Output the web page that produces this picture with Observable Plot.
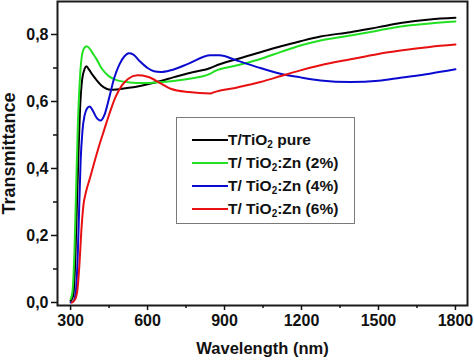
<!DOCTYPE html>
<html>
<head>
<meta charset="utf-8">
<script src="https://cdn.jsdelivr.net/npm/d3@7"></script>
<script src="https://cdn.jsdelivr.net/npm/@observablehq/plot@0.6"></script>
<style>
  html, body { margin: 0; padding: 0; background: #fff; }
  #wrap { position: relative; width: 474px; height: 363px; font-family: "Liberation Sans", Arial, sans-serif; font-weight: bold; }
  #legend { position: absolute; left: 176px; top: 117px; width: 179px; height: 107px; border: 1.5px solid #7a7a7a; box-sizing: border-box; background: #fff; }
  .row { position: absolute; left: 15px; height: 18px; display: flex; align-items: center; font-size: 15.5px; color: #111; white-space: nowrap; }
  .sw { width: 36px; height: 2px; margin-right: 0px; }
  sub { font-size: 10px; vertical-align: -3px; line-height: 0; }
</style>
</head>
<body>
<div id="wrap"></div>
<script>
// Series: T/TiO2 pure
const pureWl = [300,310,318,325,331,337,345,355,362,372,385,400,420,440,456,480,520,580,651,700,780,845,860,950,1040,1120,1196,1274,1391,1500,1586,1700,1800];
const pureT  = [0.005,0.02,0.12,0.30,0.45,0.58,0.665,0.698,0.705,0.695,0.68,0.665,0.648,0.638,0.635,0.636,0.640,0.648,0.661,0.672,0.688,0.700,0.705,0.727,0.747,0.765,0.780,0.794,0.807,0.822,0.834,0.845,0.850];
// Series: T/ TiO2:Zn (2%)
const zn2Wl = [300,307,315,322,328,335,343,352,362,372,385,400,420,450,482,530,585,651,700,780,845,860,950,1040,1120,1196,1274,1391,1500,1586,1700,1800];
const zn2T  = [0.01,0.03,0.15,0.35,0.52,0.65,0.73,0.758,0.765,0.760,0.745,0.728,0.70,0.675,0.663,0.657,0.655,0.658,0.661,0.670,0.683,0.690,0.708,0.727,0.748,0.767,0.782,0.797,0.812,0.824,0.833,0.839];
// Series: T/ TiO2:Zn (4%)
const zn4Wl = [300,312,320,327,333,339,346,355,365,375,385,400,417,432,450,470,490,510,527,545,570,600,625,651,690,760,845,880,949,1040,1118,1196,1274,1391,1500,1586,1700,1800];
const zn4T  = [0.0,0.005,0.03,0.12,0.27,0.42,0.51,0.56,0.58,0.585,0.575,0.553,0.543,0.56,0.61,0.67,0.71,0.735,0.744,0.74,0.72,0.70,0.690,0.688,0.693,0.713,0.738,0.738,0.722,0.70,0.683,0.672,0.663,0.658,0.662,0.671,0.683,0.696];
// Series: T/ TiO2:Zn (6%)
const zn6Wl = [305,318,327,335,342,350,360,375,391,410,430,452,475,500,525,560,600,650,690,760,845,860,950,1040,1120,1196,1274,1391,1500,1586,1700,1800];
const zn6T  = [0.0,0.01,0.04,0.12,0.215,0.29,0.33,0.37,0.414,0.465,0.513,0.565,0.613,0.648,0.668,0.678,0.674,0.655,0.638,0.628,0.624,0.628,0.642,0.658,0.676,0.693,0.708,0.726,0.742,0.752,0.763,0.770];

const seriesNames = ["pure", "zn2", "zn4", "zn6"];
const seriesColors = ["#000000", "#22e022", "#0a0ad0", "#e81010"];
const xTicks = [300, 600, 900, 1200, 1500, 1800];
const xMinor = [450, 750, 1050, 1350, 1650];
const yTicks = [0, 0.2, 0.4, 0.6, 0.8];
const yMinor = [0.1, 0.3, 0.5, 0.7];

const mk = (name, wl, t) => wl.map((w, i) => ({series: name, wl: w, T: t[i]}));
const data = [
  ...mk("pure", pureWl, pureT),
  ...mk("zn2", zn2Wl, zn2T),
  ...mk("zn4", zn4Wl, zn4T),
  ...mk("zn6", zn6Wl, zn6T)
];
const fmt = d => d.toFixed(1).replace(".", ",");

const chart = Plot.plot({
  width: 474,
  height: 363,
  marginLeft: 57,
  marginRight: 7,
  marginTop: 1,
  marginBottom: 58,
  style: {fontFamily: "'Liberation Sans', Arial, sans-serif", fontWeight: "bold", fontSize: "16px", color: "#111", background: "#fff"},
  x: {domain: [249, 1847]},
  y: {domain: [-0.009, 0.8985]},
  color: {domain: seriesNames, range: seriesColors},
  marks: [
    Plot.line(data, {x: "wl", y: "T", z: "series", stroke: "series", strokeWidth: 2, curve: "monotone-x"}),
    Plot.frame({stroke: "#1a1a1a", strokeWidth: 2}),
    Plot.axisX({ticks: xTicks, tickFormat: d => String(d), tickSize: 5, tickPadding: 4, strokeWidth: 1.5, label: null, fontSize: 16}),
    Plot.axisX({ticks: xMinor, tickFormat: () => "", tickSize: 3, strokeWidth: 1.5, label: null}),
    Plot.axisY({ticks: yTicks, tickFormat: fmt, tickSize: 6, tickPadding: 3, strokeWidth: 1.5, label: null, fontSize: 16}),
    Plot.axisY({ticks: yMinor, tickFormat: () => "", tickSize: 4, strokeWidth: 1.5, label: null}),
    Plot.text(["Wavelength (nm)"], {frameAnchor: "bottom", dy: 48, fontSize: 16.5, fontWeight: "bold", fill: "#111"}),
    Plot.text(["Transmittance"], {frameAnchor: "left", dx: -48, rotate: -90, textAnchor: "middle", fontSize: 18, fontWeight: "bold", fill: "#111"})
  ]
});

const wrap = document.getElementById("wrap");
wrap.appendChild(chart);

const legendLabels = [
  "T/TiO<sub>2</sub> pure",
  "T/ TiO<sub>2</sub>:Zn (2%)",
  "T/ TiO<sub>2</sub>:Zn (4%)",
  "T/ TiO<sub>2</sub>:Zn (6%)"
];
const legend = document.createElement("div");
legend.id = "legend";
legendLabels.forEach((lab, i) => {
  const row = document.createElement("div");
  row.className = "row";
  row.style.top = (13 + i * 23) + "px";
  row.innerHTML = `<span class="sw" style="background:${seriesColors[i]}"></span><span>${lab}</span>`;
  legend.appendChild(row);
});
wrap.appendChild(legend);
</script>
</body>
</html>
